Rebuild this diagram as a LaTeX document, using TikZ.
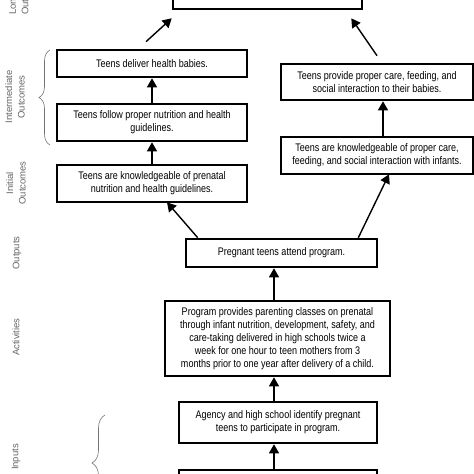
\documentclass[tikz,border=0pt]{standalone}
\usepackage{fontspec}
\setmainfont{Liberation Sans}
\newfontfamily\boxfont[FakeStretch=0.82]{Liberation Sans}
\usetikzlibrary{arrows.meta,decorations.pathreplacing,calc}
\begin{document}
\begin{tikzpicture}[x=1pt,y=-1pt,
 box/.style={draw,line width=2.6pt,inner sep=2pt,align=center,font=\boxfont\fontsize{11}{13}\selectfont},
 arr/.style={line width=1.4pt,-{Triangle[width=10pt,length=9pt]}},
 lbl/.style={rotate=90,align=center,inner sep=0pt,text=black!60,font=\fontsize{9.5}{12.5}\selectfont},
 brc/.style={draw=black!55,line width=0.6pt,decorate,decoration={brace,amplitude=11pt}}]
\useasboundingbox (0,0) rectangle (474,474);
\clip (0,0) rectangle (474,474);
% boxes
\node[box,minimum width=189pt,minimum height=49pt] (top) at (267.5,-15.5) {};
\node[box,minimum width=190pt,minimum height=27pt] (deliver) at (152,63.5) {Teens deliver health babies.};
\node[box,minimum width=190pt,minimum height=37pt] (follow) at (152,122.5) {Teens follow proper nutrition and health\\guidelines.};
\node[box,minimum width=190pt,minimum height=37pt] (initL) at (152,183.5) {Teens are knowledgeable of prenatal\\nutrition and health guidelines.};
\node[box,minimum width=192pt,minimum height=36pt] (provide) at (377,82) {Teens provide proper care, feeding, and\\social interaction to their babies.};
\node[box,minimum width=192pt,minimum height=37pt] (knowR) at (377,155.5) {Teens are knowledgeable of proper care,\\feeding, and social interaction with infants.};
\node[box,minimum width=191pt,minimum height=28pt] (pregnant) at (281.5,253) {Pregnant teens attend program.};
\node[box,minimum width=225pt,minimum height=75pt] (activ) at (277.5,338.5) {Program provides parenting classes on prenatal\\through infant nutrition, development, safety, and\\care-taking delivered in high schools twice a\\week for one hour to teen mothers from 3\\months prior to one year after delivery of a child.};
\node[box,minimum width=198pt,minimum height=41pt] (agency) at (278,422.5) {Agency and high school identify pregnant\\teens to participate in program.};
\node[box,minimum width=198pt,minimum height=40pt] (bottom) at (278,490) {};
% arrows
\draw[arr] ([shift={(-6,-7)}]deliver.north) -- ([shift={(0,8)}]top.south west);
\draw[arr] ([shift={(0,-7)}]provide.north) -- ([shift={(-12,8)}]top.south east);
\draw[arr] (follow.north) -- (deliver.south);
\draw[arr] (initL.north) -- (follow.south);
\draw[arr] ([shift={(6,0)}]knowR.north) -- ([shift={(6,0)}]provide.south);
\draw[arr] ([shift={(13,0)}]pregnant.north west) -- ([shift={(15,-1)}]initL.south);
\draw[arr] ([shift={(-20,0)}]pregnant.north east) -- ([shift={(12,-1)}]knowR.south);
\draw[arr] ([shift={(-3.5,0)}]activ.north) -- ([shift={(-7.5,0)}]pregnant.south);
\draw[arr] ([shift={(-4,0)}]agency.north) -- ([shift={(-3.5,0)}]activ.south);
\draw[arr] ([shift={(-4,0)}]bottom.north) -- ([shift={(-4,0)}]agency.south);
% braces
\draw[brc] (50,145) -- (50,50);
\draw[brc,decoration={amplitude=13pt}] (105,511) -- (105,415);
% labels
\node[lbl,anchor=west] (lLong) at (19,15) {Long-term\\Outcomes};
\node[lbl] (lInter) at (15,97) {Intermediate\\Outcomes};
\node[lbl] (lInit) at (16,183) {Initial\\Outcomes};
\node[lbl] (lOut) at (17,253) {Outputs};
\node[lbl] (lAct) at (16,337) {Activities};
\node[lbl] (lIn) at (16,457) {Inputs};
\end{tikzpicture}
\end{document}
